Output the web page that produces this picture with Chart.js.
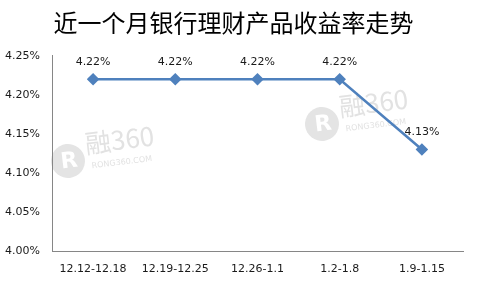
<!DOCTYPE html>
<html><head><meta charset="utf-8">
<script src="https://cdn.jsdelivr.net/npm/chart.js@4/dist/chart.umd.min.js"></script>
<style>html,body{margin:0;padding:0;background:#fff}#wrap{width:477px;height:284px}</style>
</head><body><div id="wrap"><canvas id="c" width="477" height="284"></canvas></div>
<script>
const categories = ['12.12-12.18','12.19-12.25','12.26-1.1','1.2-1.8','1.9-1.15'];
const rates = [4.22, 4.22, 4.22, 4.22, 4.13];
const yTicks = [4.00, 4.05, 4.10, 4.15, 4.20, 4.25];
const titleText = '近一个月银行理财产品收益率走势';

const watermark = {
  id: 'watermark',
  beforeDraw(chart) {
    const ctx = chart.ctx;
    const marks = [[68,161],[322,124]];
    ctx.save();
    for (const [x,y] of marks) {
      ctx.save();
      ctx.translate(x,y);
      ctx.rotate(-0.12);
      ctx.fillStyle = '#e4e4e4';
      ctx.beginPath(); ctx.arc(0,0,17,0,Math.PI*2); ctx.fill();
      ctx.fillStyle = '#fff';
      ctx.font = 'bold 22px "DejaVu Sans"';
      ctx.textAlign='center'; ctx.textBaseline='middle';
      ctx.fillText('R',1,1);
      ctx.fillStyle = '#e2e2e2';
      ctx.textAlign='left';
      ctx.font = '26px "Noto Sans CJK SC"';
      ctx.fillText('融360',19,-15);
      ctx.font = '8px "DejaVu Sans"';
      ctx.fillText('RONG360.COM',23,8);
      ctx.restore();
    }
    ctx.restore();
  }
};

const pointLabels = {
  id: 'pointLabels',
  afterDatasetsDraw(chart) {
    const ctx = chart.ctx;
    const meta = chart.getDatasetMeta(0);
    ctx.save();
    ctx.font = '11px "DejaVu Sans"';
    ctx.fillStyle = '#1a1a1a';
    ctx.textAlign = 'center';
    ctx.textBaseline = 'middle';
    meta.data.forEach((pt, i) => {
      ctx.fillText(rates[i].toFixed(2) + '%', pt.x, pt.y - 17);
    });
    ctx.restore();
  }
};

new Chart(document.getElementById('c'), {
  type: 'line',
  data: {
    labels: categories,
    datasets: [{
      data: rates,
      borderColor: '#4f81bd',
      backgroundColor: '#4f81bd',
      borderWidth: 2.5,
      pointStyle: 'rectRot',
      pointRadius: 4.5,
      pointHoverRadius: 4.5,
      tension: 0
    }]
  },
  options: {
    responsive: false,
    animation: false,
    events: [],
    layout: { padding: { left: 4, right: 14, top: 0, bottom: 0 } },
    plugins: {
      legend: { display: false },
      tooltip: { enabled: false },
      title: {
        display: true,
        text: titleText,
        font: { family: '"Noto Sans CJK SC"', size: 24, weight: 'normal' },
        color: '#000',
        padding: { top: 8, bottom: 19 }
      }
    },
    scales: {
      x: {
        offset: true,
        grid: { display: false, drawTicks: false },
        border: { color: '#868686', width: 1 },
        afterFit(axis) { axis.height = 33; },
        ticks: { color: '#1a1a1a', font: { family: '"DejaVu Sans"', size: 11 }, padding: 12, maxRotation: 0 }
      },
      y: {
        min: 4.00, max: 4.25,
        afterBuildTicks(axis) { axis.ticks = yTicks.map(v => ({ value: v })); },
        afterFit(axis) { axis.width = 48; },
        grid: { display: false, drawTicks: false },
        border: { color: '#868686', width: 1 },
        ticks: {
          color: '#1a1a1a', font: { family: '"DejaVu Sans"', size: 11 }, padding: 12,
          callback: v => v.toFixed(2) + '%'
        }
      }
    }
  },
  plugins: [watermark, pointLabels]
});
</script></body></html>
